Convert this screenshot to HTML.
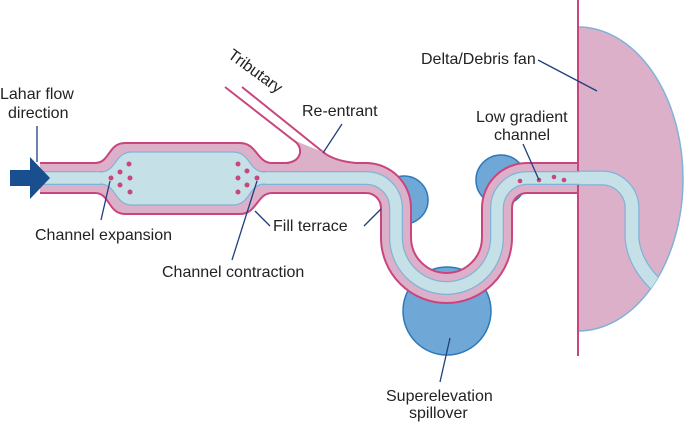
<!DOCTYPE html>
<html><head><meta charset="utf-8"><style>
html,body{margin:0;padding:0;background:#fff;}
svg{display:block;}
text{font-family:"Liberation Sans",Arial,sans-serif;font-size:16px;fill:#222;}
</style></head><body>
<svg width="685" height="423" viewBox="0 0 685 423" xmlns="http://www.w3.org/2000/svg">
<defs>
<clipPath id="fanclip"><path d="M578,27 A105,152 0 0 1 578,331 Z"/></clipPath>
</defs>
<!-- fan -->
<path d="M578,27 A105,152 0 0 1 578,331 Z" fill="#ddb0c9" stroke="#7fb3d8" stroke-width="1.5"/>
<g clip-path="url(#fanclip)">
<path d="M578,178 H602 A30,30 0 0 1 632,208 V238 Q634,266 662,290" fill="none" stroke="#7fb3d8" stroke-width="15"/>
<path d="M578,178 H602 A30,30 0 0 1 632,208 V238 Q634,266 662,290" fill="none" stroke="#c6e0e7" stroke-width="12.5"/>
</g>
<line x1="578" y1="0" x2="578" y2="356" stroke="#c9457f" stroke-width="2"/>
<!-- spillover circles -->
<g fill="#6fa8d6" stroke="#2f78b8" stroke-width="1.5">
<circle cx="404" cy="200" r="24"/>
<circle cx="501" cy="180" r="25"/>
<circle cx="447" cy="311" r="44"/>
</g>
<!-- tributary lines -->
<line x1="225" y1="87" x2="293" y2="140" stroke="#c9457f" stroke-width="2"/>
<line x1="242" y1="87" x2="323" y2="152" stroke="#c9457f" stroke-width="2"/>
<!-- channel -->
<path d="M40,178 H366 A30,30 0 0 1 396,208 V237.5 A50.5,50.5 0 0 0 497,237.5 V208 A30,30 0 0 1 527,178 H578" fill="none" stroke="#c9457f" stroke-width="32"/>
<path d="M40,178 H366 A30,30 0 0 1 396,208 V237.5 A50.5,50.5 0 0 0 497,237.5 V208 A30,30 0 0 1 527,178 H577" fill="none" stroke="#ddb0c9" stroke-width="28"/>
<!-- tributary wedge -->
<path d="M293,140 L323,152 Q334,161 355,163 L355,170 L288,170 L288,164 Q300,160 300,150 Q299,143 293,140 Z" fill="#ddb0c9"/>
<path d="M293,140 Q301,145 300,153 Q298,162 286,163" fill="none" stroke="#c9457f" stroke-width="2"/>
<path d="M323,152 Q334,161 356,163" fill="none" stroke="#c9457f" stroke-width="2"/>
<!-- expansion outer -->
<path d="M95,163 C110,163 108,143 125,143 L240,143 C257,143 257,163 272,163 L272,193 C257,193 257,214 240,214 L125,214 C108,214 110,193 95,193 Z" fill="#ddb0c9"/>
<path d="M95,163 C110,163 108,143 125,143 L240,143 C257,143 257,163 272,163" fill="none" stroke="#c9457f" stroke-width="2"/>
<path d="M95,193 C110,193 108,214 125,214 L240,214 C257,214 257,193 272,193" fill="none" stroke="#c9457f" stroke-width="2"/>
<!-- inner light blue -->
<path d="M40,178 H366 A30,30 0 0 1 396,208 V237.5 A50.5,50.5 0 0 0 497,237.5 V208 A30,30 0 0 1 527,178 H580" fill="none" stroke="#7fb3d8" stroke-width="14"/>
<path d="M40,178 H366 A30,30 0 0 1 396,208 V237.5 A50.5,50.5 0 0 0 497,237.5 V208 A30,30 0 0 1 527,178 H582" fill="none" stroke="#c6e0e7" stroke-width="11.5"/>
<path d="M100,172.5 C117,172.5 114,152 132,152 L233,152 C251,152 248,172.5 265,172.5 L265,183.5 C248,183.5 251,205 233,205 L132,205 C114,205 117,183.5 100,183.5 Z" fill="#c6e0e7"/>
<path d="M100,172 C117,172 114,152 132,152 L233,152 C251,152 248,172 265,172" fill="none" stroke="#7fb3d8" stroke-width="1.2"/>
<path d="M100,184 C117,184 114,205 132,205 L233,205 C251,205 248,184 265,184" fill="none" stroke="#7fb3d8" stroke-width="1.2"/>
<!-- dots -->
<g fill="#c9457f">
<circle cx="111" cy="178" r="2.5"/><circle cx="120" cy="172" r="2.5"/><circle cx="120" cy="185" r="2.5"/>
<circle cx="129" cy="164" r="2.5"/><circle cx="130" cy="178" r="2.5"/><circle cx="130" cy="192" r="2.5"/>
<circle cx="238" cy="164" r="2.5"/><circle cx="238" cy="178" r="2.5"/><circle cx="238" cy="192" r="2.5"/>
<circle cx="247" cy="171" r="2.5"/><circle cx="247" cy="185" r="2.5"/><circle cx="257" cy="178" r="2.5"/>
<circle cx="520" cy="181" r="2.3"/><circle cx="539" cy="180" r="2.3"/><circle cx="554" cy="177" r="2.3"/><circle cx="564" cy="180" r="2.3"/>
</g>
<!-- arrow -->
<path d="M10,170 H30 V157 L50,178 L30,199 V186 H10 Z" fill="#1a4f8f"/>
<!-- leaders -->
<g stroke="#1f3f7f" stroke-width="1.3" fill="none">
<line x1="37" y1="126" x2="37" y2="162"/>
<line x1="110" y1="181" x2="101" y2="220"/>
<line x1="257" y1="181" x2="232" y2="260"/>
<line x1="255" y1="211" x2="270" y2="226"/>
<line x1="342" y1="124" x2="323" y2="153"/>
<line x1="364" y1="226" x2="381" y2="209"/>
<line x1="538" y1="60" x2="597" y2="91"/>
<line x1="523" y1="144" x2="539" y2="180"/>
<line x1="450" y1="338" x2="440" y2="382"/>
</g>
<!-- labels -->
<text x="0" y="99">Lahar flow</text>
<text x="8" y="118">direction</text>
<text x="227" y="57" transform="rotate(36 227 57)">Tributary</text>
<text x="302" y="116">Re-entrant</text>
<text x="35" y="240">Channel expansion</text>
<text x="273" y="231">Fill terrace</text>
<text x="162" y="277">Channel contraction</text>
<text x="421" y="64">Delta/Debris fan</text>
<text x="476" y="122">Low gradient</text>
<text x="494" y="140">channel</text>
<text x="386" y="401">Superelevation</text>
<text x="409" y="418">spillover</text>
</svg>
</body></html>
